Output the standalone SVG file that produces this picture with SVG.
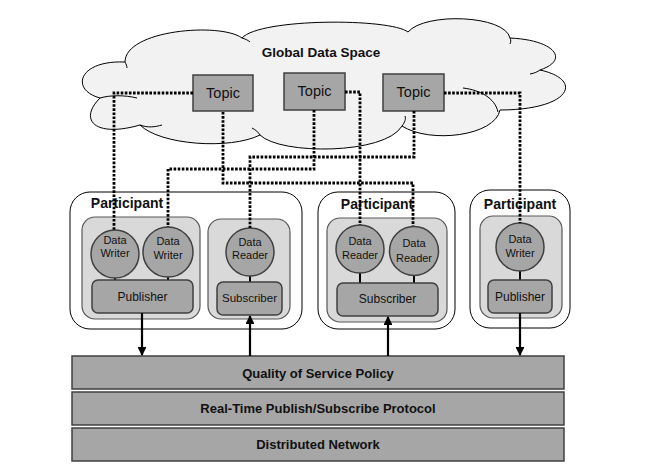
<svg xmlns="http://www.w3.org/2000/svg" width="651" height="475" viewBox="0 0 651 475">
<defs>
<style>
.cloud{fill:#f2f2f2;stroke:#000;stroke-width:1}
.cin{fill:none;stroke:#000;stroke-width:1}
.dark{fill:#a6a6a6;stroke:#404040;stroke-width:1.5}
.grp{fill:#d9d9d9;stroke:#595959;stroke-width:1.2}
.outer{fill:#fff;stroke:#000;stroke-width:1}
.dot{fill:none;stroke:#000;stroke-width:2.8;stroke-dasharray:2.6 1.5}
.solid{fill:none;stroke:#000;stroke-width:2.2}
.stub{stroke:#000;stroke-width:2}
.t{font-family:"Liberation Sans",Arial,sans-serif;fill:#111;text-anchor:middle}
.s{font-size:11px}
.b{font-weight:bold}
</style>
<marker id="ah" viewBox="0 0 10 10" refX="9" refY="5" markerWidth="4" markerHeight="4" orient="auto" markerUnits="strokeWidth">
<path d="M0,0 L10,5 L0,10 Z" fill="#000"/>
</marker>
</defs>
<rect width="651" height="475" fill="#fff"/>

<g id="global-data-space">
<path class="cloud" d="M 140,125 C 95,138 78,120 100,98 C 70,90 78,60 125,62 C 125,30 220,22 242,38 C 260,18 390,18 408,32 C 425,12 505,15 510,38 C 555,40 570,60 540,70 C 585,80 570,110 500,110 C 495,136 430,144 402,126 C 385,155 280,155 260,135 C 230,150 160,145 140,125 Z"/>
<path class="cin" d="M 100,98 C 110,95 125,95 137,98"/>
<path class="cin" d="M 140,125 C 148,128 155,127 162,125"/>
<path class="cin" d="M 260,135 C 258,132 256,130 252,128"/>
<path class="cin" d="M 402,126 C 405,122 406,119 405,116"/>
<path class="cin" d="M 498,112 C 495,98 480,90 463,88"/>
<path class="cin" d="M 540,70 C 537,72 535,73 530,74"/>
<path class="cin" d="M 510,38 C 511,40 511,42 510,44"/>
<path class="cin" d="M 242,38 C 245,39 248,40 250,42"/>
<path class="cin" d="M 125,62 C 126,64 127,66 127,68"/>
<text class="t b" x="321" y="57" font-size="13.5">Global Data Space</text>
</g>

<g id="topic1"><rect class="dark" x="193" y="75" width="60" height="36"/><text class="t" x="223" y="98" font-size="14.5">Topic</text></g>
<g id="topic2"><rect class="dark" x="284" y="73" width="61" height="37"/><text class="t" x="314.5" y="96" font-size="14.5">Topic</text></g>
<g id="topic3"><rect class="dark" x="383" y="74" width="61" height="37"/><text class="t" x="413.5" y="97" font-size="14.5">Topic</text></g>

<g id="participant1">
<rect class="outer" x="70" y="192" width="232" height="137" rx="20"/>
<text class="t b" x="127" y="208" font-size="14">Participant</text>
<rect class="grp" x="82" y="217" width="118" height="102" rx="13"/>
<rect class="grp" x="208" y="219" width="82" height="100" rx="13"/>
<line class="stub" x1="115" y1="278" x2="115" y2="280"/>
<line class="stub" x1="168" y1="277" x2="168" y2="280"/>
<line class="stub" x1="250" y1="276" x2="250" y2="282"/>
<g id="p1-writer1"><circle class="dark" cx="115" cy="254" r="24"/><text class="t s" x="115" y="244">Data</text><text class="t s" x="115" y="257">Writer</text></g>
<g id="p1-writer2"><circle class="dark" cx="168" cy="252" r="25"/><text class="t s" x="168" y="245">Data</text><text class="t s" x="168" y="259">Writer</text></g>
<g id="p1-reader"><circle class="dark" cx="250" cy="252" r="24"/><text class="t s" x="250" y="246">Data</text><text class="t s" x="250" y="259">Reader</text></g>
<g id="p1-publisher"><rect class="dark" x="92" y="280" width="101" height="33" rx="6"/><text class="t" x="142.5" y="301" font-size="12">Publisher</text></g>
<g id="p1-subscriber"><rect class="dark" x="217" y="282" width="65" height="33" rx="6"/><text class="t" x="249.5" y="302" font-size="11.5">Subscriber</text></g>
</g>

<g id="participant2">
<rect class="outer" x="318" y="192" width="137" height="137" rx="20"/>
<text class="t b" x="377" y="209" font-size="14">Participant</text>
<rect class="grp" x="327" y="218" width="120" height="104" rx="13"/>
<line class="stub" x1="360" y1="273" x2="360" y2="283"/>
<line class="stub" x1="414" y1="275" x2="414" y2="283"/>
<g id="p2-reader1"><circle class="dark" cx="360" cy="249" r="24"/><text class="t s" x="360" y="245">Data</text><text class="t s" x="360" y="259">Reader</text></g>
<g id="p2-reader2"><circle class="dark" cx="414" cy="251" r="24.5"/><text class="t s" x="414" y="247">Data</text><text class="t s" x="414" y="262">Reader</text></g>
<g id="p2-subscriber"><rect class="dark" x="337" y="283" width="101" height="33" rx="6"/><text class="t" x="387.5" y="303" font-size="12">Subscriber</text></g>
</g>

<g id="participant3">
<rect class="outer" x="470" y="190" width="100" height="138" rx="20"/>
<text class="t b" x="520" y="209" font-size="14">Participant</text>
<rect class="grp" x="480" y="216" width="82" height="102" rx="13"/>
<line class="stub" x1="520" y1="271" x2="520" y2="280"/>
<g id="p3-writer"><circle class="dark" cx="520" cy="247" r="24"/><text class="t s" x="520" y="243">Data</text><text class="t s" x="520" y="257">Writer</text></g>
<g id="p3-publisher"><rect class="dark" x="488" y="280" width="64" height="33" rx="6"/><text class="t" x="520" y="301" font-size="12">Publisher</text></g>
</g>

<g id="qos"><rect class="dark" x="72" y="356" width="492" height="33"/><text class="t b" x="318" y="378" font-size="13">Quality of Service Policy</text></g>
<g id="rtps"><rect class="dark" x="72" y="392" width="492" height="33"/><text class="t b" x="318" y="413" font-size="13">Real-Time Publish/Subscribe Protocol</text></g>
<g id="network"><rect class="dark" x="72" y="428" width="492" height="33"/><text class="t b" x="318" y="449" font-size="13">Distributed Network</text></g>

<g id="connectors">
<path class="dot" d="M 193,93 H 114 V 230"/>
<path class="dot" d="M 223,112 V 183 H 413 V 226"/>
<path class="dot" d="M 314,110 V 169 H 168 V 227"/>
<path class="dot" d="M 345,92 H 360 V 225"/>
<path class="dot" d="M 414,111 V 157 H 250 V 228"/>
<path class="dot" d="M 444,93 H 520 V 223"/>
<path class="solid" d="M 142,313 V 355" marker-end="url(#ah)"/>
<path class="solid" d="M 250,356 V 316" marker-end="url(#ah)"/>
<path class="solid" d="M 388,356 V 317" marker-end="url(#ah)"/>
<path class="solid" d="M 520,313 V 355" marker-end="url(#ah)"/>
</g>
</svg>
